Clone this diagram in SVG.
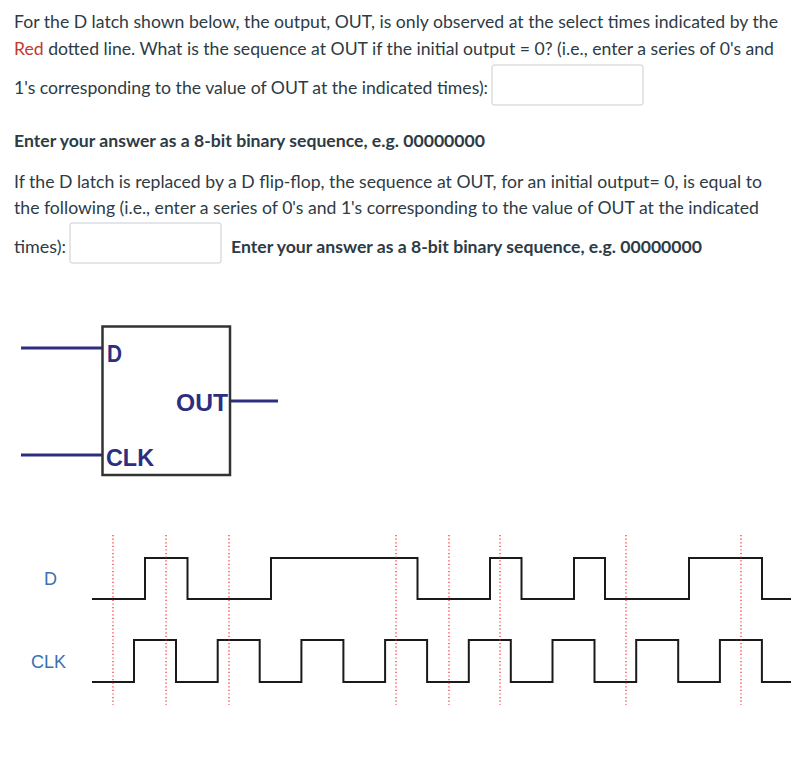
<svg xmlns="http://www.w3.org/2000/svg" width="807" height="765" viewBox="0 0 807 765">
<style>
.t{font-family:Lato,"Liberation Sans",sans-serif;font-size:17.5px;fill:#2d3b45}
.b{font-weight:bold}
.in{fill:#fff;stroke:#c7cdd1;stroke-width:1}
.w{fill:none;stroke:#1a1a1a;stroke-width:2}
.r{stroke:#ff2020;stroke-width:1.2;stroke-dasharray:1.2 2.4}
.n{stroke:#2e2e80;stroke-width:3}
.lt{font-family:"Liberation Sans",sans-serif;font-weight:bold;font-size:24px;fill:#2e2e80}
.lab{font-family:"Liberation Sans",Arial,sans-serif;font-size:18px;fill:#3a6fb5}
</style>
<rect width="807" height="765" fill="#fff"/>
<g id="question">
<text class="t" x="14" y="28" textLength="764" lengthAdjust="spacingAndGlyphs">For the D latch shown below, the output, OUT, is only observed at the select times indicated by the</text>
<text class="t" x="14" y="55" textLength="760" lengthAdjust="spacingAndGlyphs"><tspan fill="#c0392b">Red</tspan> dotted line. What is the sequence at OUT if the initial output = 0? (i.e., enter a series of 0's and</text>
<text class="t" x="14" y="94" textLength="474" lengthAdjust="spacingAndGlyphs">1's corresponding to the value of OUT at the indicated times):</text>
<rect class="in" x="492" y="65" width="151" height="40" rx="2"/>
<text class="t b" x="14" y="147" textLength="471" lengthAdjust="spacingAndGlyphs">Enter your answer as a 8-bit binary sequence, e.g. 00000000</text>
<text class="t" x="14" y="188" textLength="748" lengthAdjust="spacingAndGlyphs">If the D latch is replaced by a D flip-flop, the sequence at OUT, for an initial output= 0, is equal to</text>
<text class="t" x="14" y="214" textLength="745" lengthAdjust="spacingAndGlyphs">the following (i.e., enter a series of 0's and 1's corresponding to the value of OUT at the indicated</text>
<text class="t" x="14" y="253" textLength="52" lengthAdjust="spacingAndGlyphs">times):</text>
<rect class="in" x="70" y="223" width="151" height="40" rx="2"/>
<text class="t b" x="231" y="253" textLength="471" lengthAdjust="spacingAndGlyphs">Enter your answer as a 8-bit binary sequence, e.g. 00000000</text>
</g>
<g id="latch">
<line class="n" x1="21" y1="348" x2="102" y2="348"/>
<line class="n" x1="21" y1="455" x2="102" y2="455"/>
<line class="n" x1="230" y1="401" x2="278" y2="401"/>
<rect x="102.5" y="326.5" width="127.5" height="148.5" fill="#fff" stroke="#333" stroke-width="2.5"/>
<text class="lt" x="107" y="362" textLength="15" lengthAdjust="spacingAndGlyphs">D</text>
<text class="lt" x="176" y="411" textLength="52" lengthAdjust="spacingAndGlyphs">OUT</text>
<text class="lt" x="106" y="466" textLength="48" lengthAdjust="spacingAndGlyphs">CLK</text>
</g>
<g id="labels">
<text class="lab" x="44" y="585">D</text>
<text class="lab" x="31" y="668">CLK</text>
</g>
<g id="waveforms">
<polyline class="w" points="92,599 145,599 145,558 187.5,558 187.5,599 271,599 271,558 417.5,558 417.5,599 490,599 490,558 521.5,558 521.5,599 574,599 574,558 605,558 605,599 689,599 689,558 762,558 762,599 791,599"/>
<polyline class="w" points="92,682 134,682 134,640 176,640 176,682 217.7,682 217.7,640 259.7,640 259.7,682 301.4,682 301.4,640 343.4,640 343.4,682 385.1,682 385.1,640 427.1,640 427.1,682 468.8,682 468.8,640 510.8,640 510.8,682 552.5,682 552.5,640 594.5,640 594.5,682 636.2,682 636.2,640 678.2,640 678.2,682 719.9,682 719.9,640 761.9,640 761.9,682 791,682"/>
</g>
<g id="markers">
<line class="r" x1="113" y1="535" x2="113" y2="705"/>
<line class="r" x1="166" y1="535" x2="166" y2="705"/>
<line class="r" x1="229" y1="535" x2="229" y2="705"/>
<line class="r" x1="396" y1="535" x2="396" y2="705"/>
<line class="r" x1="449" y1="535" x2="449" y2="705"/>
<line class="r" x1="500" y1="535" x2="500" y2="705"/>
<line class="r" x1="626" y1="535" x2="626" y2="705"/>
<line class="r" x1="741" y1="535" x2="741" y2="705"/>
</g>
</svg>
